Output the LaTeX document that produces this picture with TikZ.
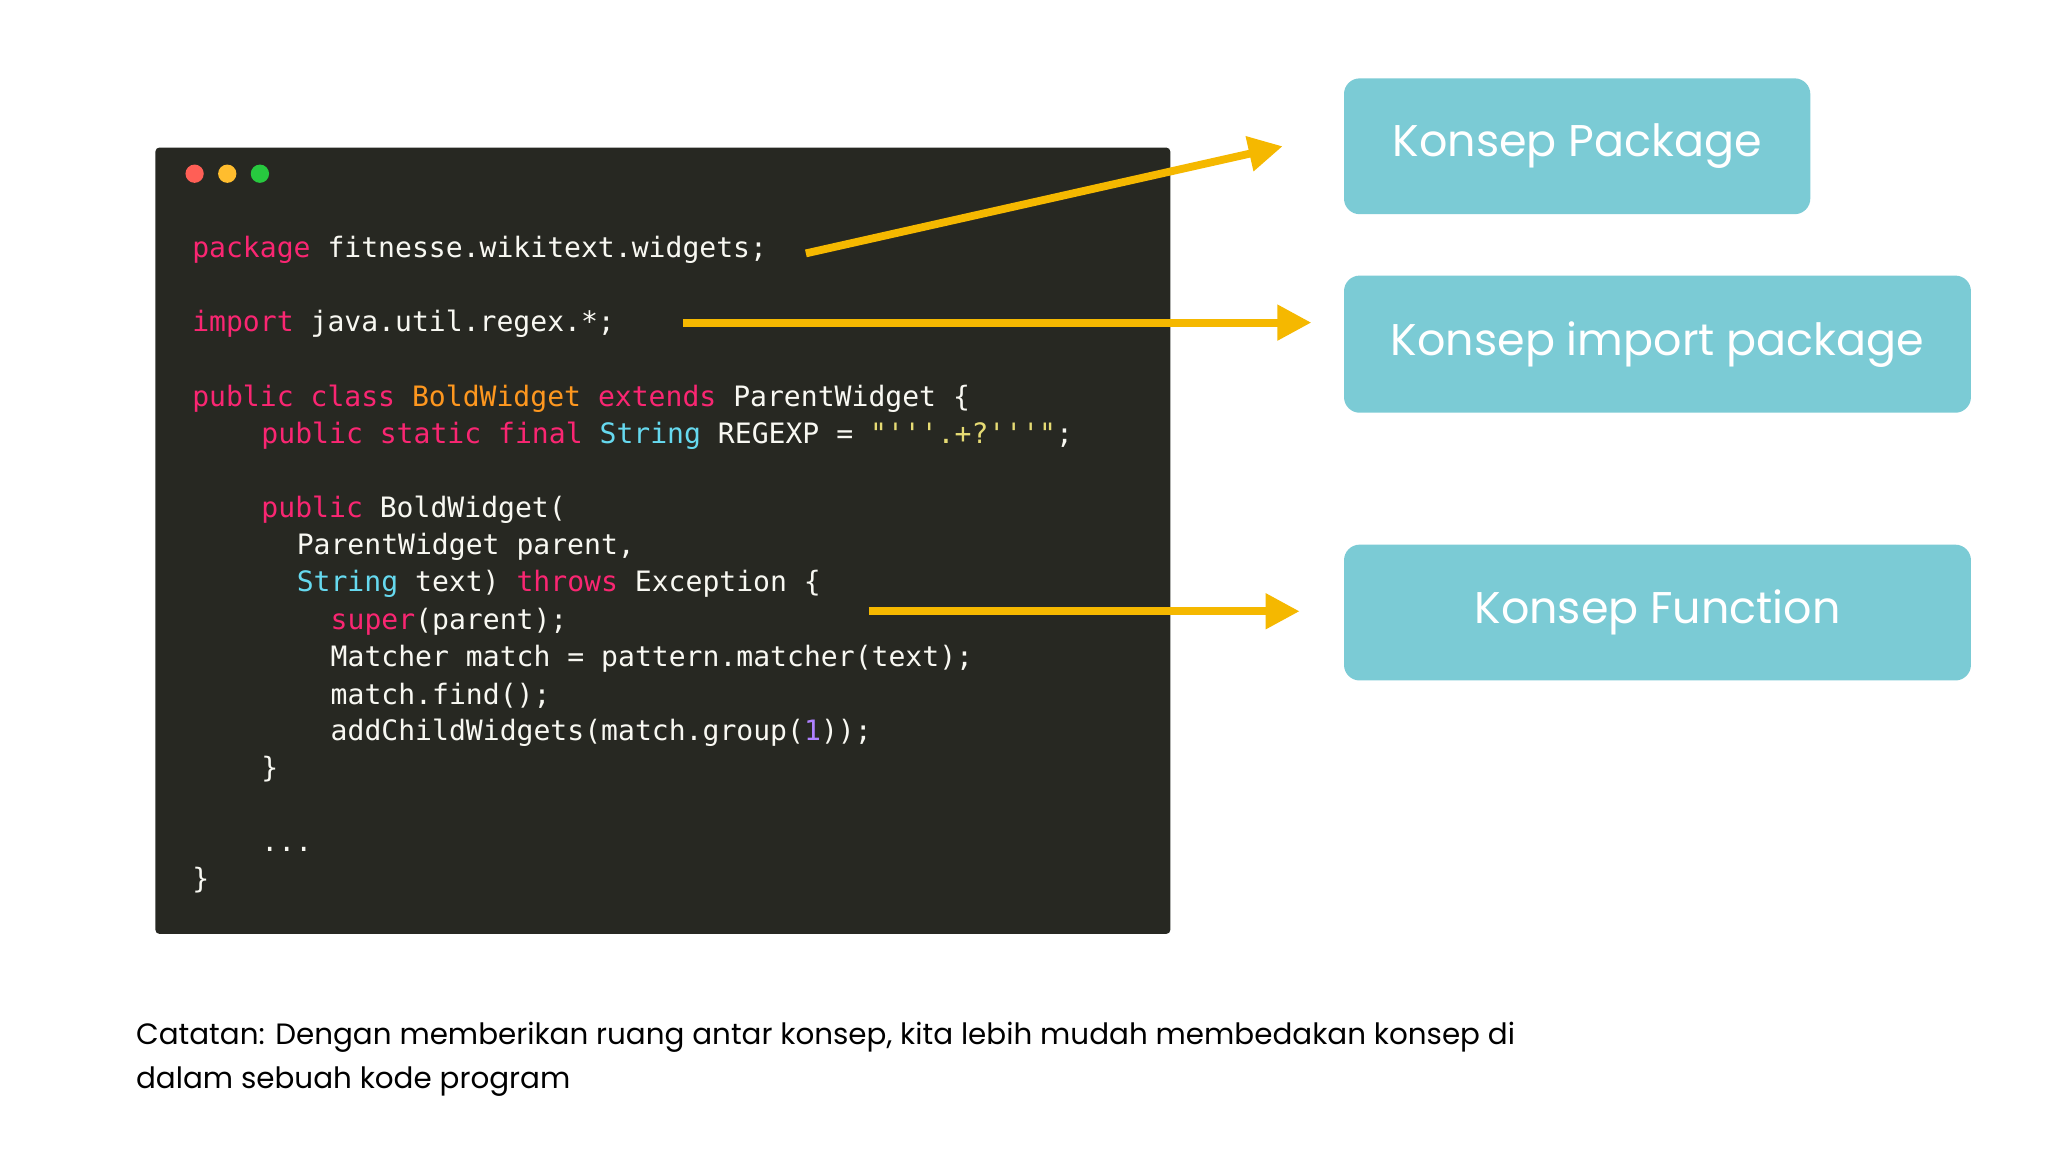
\documentclass[tikz,border=0pt]{standalone}
\usepackage{fontspec}
\setmainfont{Poppins}
\setmonofont{DejaVu Sans Mono}
\usetikzlibrary{arrows.meta}
\definecolor{bg}{HTML}{272822}
\definecolor{kw}{HTML}{F92672}
\definecolor{cl}{HTML}{FD971F}
\definecolor{ty}{HTML}{66D9EF}
\definecolor{st}{HTML}{E6DB74}
\definecolor{nu}{HTML}{AE81FF}
\definecolor{fg}{HTML}{F8F8F2}
\definecolor{boxc}{HTML}{7BCBD5}
\definecolor{arr}{HTML}{F5B800}
\definecolor{dred}{HTML}{FF5F56}
\definecolor{dyel}{HTML}{FFBD2E}
\definecolor{dgrn}{HTML}{27C93F}
\newcommand{\K}[1]{\textcolor{kw}{#1}}
\newcommand{\C}[1]{\textcolor{cl}{#1}}
\newcommand{\T}[1]{\textcolor{ty}{#1}}
\newcommand{\Sx}[1]{\textcolor{st}{#1}}
\newcommand{\N}[1]{\textcolor{nu}{#1}}
\begin{document}
\begin{tikzpicture}[x=1pt,y=-1pt,
  code/.style={anchor=west,inner sep=0pt,text=fg,font=\ttfamily\fontsize{21.5}{24}\selectfont},
  concept/.style={fill=boxc,rounded corners=12pt,text=white,font=\fontsize{34}{40}\selectfont},
  yarrow/.style={draw=arr,line width=6pt,-{Triangle[length=26pt,width=26pt]}}]
\useasboundingbox (0,0) rectangle (1568,882);
\fill[white] (0,0) rectangle (1568,882);
\fill[bg,rounded corners=3pt] (119,113) rectangle (896,715);
\fill[dred] (149,133) circle (7);
\fill[dyel] (174,133) circle (7);
\fill[dgrn] (199,133) circle (7);
\node[code] (l1) at (147,191) {\K{package} fitnesse.wikitext.widgets;};
\node[code] (l2) at (147,248) {\K{import} java.util.regex.*;};
\node[code] (l3) at (147,305) {\K{public class} \C{BoldWidget} \K{extends} ParentWidget \{};
\node[code] (l4) at (200,334) {\K{public static final} \T{String} REGEXP = \Sx{"'''.+?'''"};};
\node[code] (l5) at (200,390) {\K{public} BoldWidget(};
\node[code] (l6) at (227,419) {ParentWidget parent,};
\node[code] (l7) at (227,447) {\T{String} text) \K{throws} Exception \{};
\node[code] (l8) at (253,476) {\K{super}(parent);};
\node[code] (l9) at (253,504) {Matcher match = pattern.matcher(text);};
\node[code] (l10) at (253,533) {match.find();};
\node[code] (l11) at (253,561) {addChildWidgets(match.group(\N{1}));};
\node[code] (l12) at (200,589) {\}};
\node[code] (l13) at (200,650) {...};
\node[code] (l14) at (147,674) {\}};
\node[concept,minimum width=357pt,minimum height=104pt] (b1) at (1207.5,112) {Konsep Package};
\node[concept,minimum width=480pt,minimum height=105pt] (b2) at (1269,263.5) {Konsep import package};
\node[concept,minimum width=480pt,minimum height=104pt] (b3) at (1269,469) {Konsep Function};
\coordinate (s1) at (617,194); \coordinate (e1) at (982,112);
\coordinate (s2) at (523,247); \coordinate (e2) at (1004,247);
\coordinate (s3) at (665,468); \coordinate (e3) at (995,468);
\draw[yarrow] (s1) -- (e1);
\draw[yarrow] (s2) -- (e2);
\draw[yarrow] (s3) -- (e3);
\node[anchor=north west,align=left,inner sep=0pt,text=black,font=\fontsize{22.5}{34}\selectfont] (note) at (104,782)
 {Catatan: Dengan memberikan ruang antar konsep, kita lebih mudah membedakan konsep di\\dalam sebuah kode program};
\end{tikzpicture}
\end{document}
